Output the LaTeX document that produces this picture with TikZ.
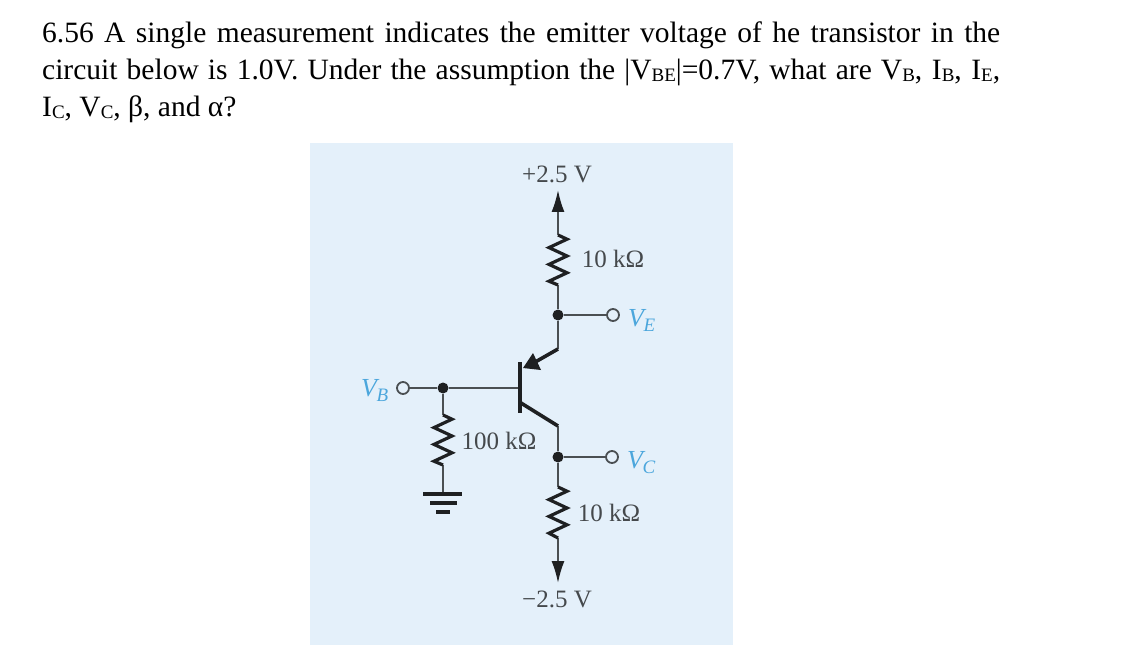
\documentclass[tikz,border=0pt]{standalone}
\usepackage{fontspec}
\setmainfont{Liberation Serif}
\usetikzlibrary{arrows.meta}
\definecolor{panelblue}{HTML}{E4F0FA}
\definecolor{wirecol}{HTML}{4A4F52}
\definecolor{inkcol}{HTML}{1E2022}
\definecolor{labelcol}{HTML}{45494C}
\definecolor{probecol}{HTML}{4BA6DC}
\newcommand{\subs}[1]{\raisebox{-1.5pt}{\fontsize{19}{19}\selectfont #1}}
\newcommand{\probe}[2]{\textit{#1}\kern-3pt\raisebox{-5pt}{\fontsize{19}{19}\selectfont\textit{#2}}}
\tikzset{
  x=1pt,y=-1pt,
  questionline/.style={anchor=base west,inner sep=0pt,font=\fontsize{29.5}{29.5}\selectfont,text=black},
  wire/.style={draw=wirecol,line width=1.9pt},
  thickline/.style={draw=inkcol,line width=3.6pt},
  resline/.style={draw=inkcol,line width=3.2pt,line join=miter},
  dotnode/.style={circle,fill=inkcol,inner sep=0pt,minimum size=11pt},
  opennode/.style={circle,draw=wirecol,fill=panelblue,line width=1.8pt,inner sep=0pt,minimum size=12pt},
  valuelabel/.style={inner sep=0pt,font=\fontsize{25}{25}\selectfont,text=labelcol},
  probelabel/.style={inner sep=0pt,font=\fontsize{26}{26}\selectfont,text=probecol},
  rail/.style={wire,-{Latex[length=22pt,width=13pt,inkcol]}},
  gnd/.style={draw=inkcol,line width=3.6pt}
}
\newcommand{\zigzag}[3]{% x, top y, bottom y
  \draw[resline] (#1,#2) -- ++(9,4.2) -- ++(-18,8.4) -- ++(18,8.4) -- ++(-18,8.4) -- ++(18,8.4) -- ++(-18,8.4) -- (#1,#3);}
\begin{document}
\begin{tikzpicture}
\useasboundingbox (0,0) rectangle (1126,668);
\fill[white] (0,0) rectangle (1126,668);
\node[questionline] (q1) at (42,43) {\makebox[958pt][s]{6.56 A single measurement indicates the emitter voltage of he transistor in the}};
\node[questionline] (q2) at (42,80) {\makebox[958pt][s]{circuit below is 1.0V. Under the assumption the |V\subs{BE}|=0.7V, what are V\subs{B}, I\subs{B}, I\subs{E},}};
\node[questionline] (q3) at (42,117) {I\subs{C}, V\subs{C}, β, and α?};

\fill[panelblue] (310,143) rectangle (733,645);

\coordinate (top) at (558,190);
\coordinate (r1t) at (558,235);
\coordinate (r1b) at (558,285);
\coordinate (em) at (558,349);
\coordinate (bartop) at (520,362);
\coordinate (barbot) at (520,413);
\coordinate (base) at (520,388);
\coordinate (emb) at (530,365);
\coordinate (colb) at (521,403);
\coordinate (col) at (558,426);
\coordinate (r3t) at (558,487);
\coordinate (r3b) at (558,538);
\coordinate (bot) at (558,583);
\coordinate (r2t) at (443,415);
\coordinate (r2b) at (443,465);
\coordinate (g1) at (443,494);
\node[dotnode] (ne) at (558,315) {};
\node[dotnode] (nc) at (558,457) {};
\node[dotnode] (nb) at (443,388) {};
\node[opennode] (oe) at (613,315) {};
\node[opennode] (oc) at (612,457) {};
\node[opennode] (ob) at (403,388) {};

\draw[rail] (r1t) -- (top);
\draw[wire] (r1b) -- (ne) -- (em);
\draw[wire] (ne) -- (oe);
\draw[wire] (ob) -- (nb) -- (base);
\draw[wire] (nb) -- (r2t);
\draw[wire] (r2b) -- (g1);
\draw[wire] (col) -- (nc) -- (r3t);
\draw[wire] (nc) -- (oc);
\draw[rail] (r3b) -- (bot);

\zigzag{558}{235}{285}
\zigzag{443}{415}{465}
\zigzag{558}{487}{538}

\draw[draw=inkcol,line width=4pt] (bartop) -- (barbot);
\draw[thickline] (em) -- (emb);
\fill[inkcol] (523,368) -- (533,353) -- (541,370) -- cycle;
\draw[thickline] (colb) -- (col);

\draw[gnd] (423,494) -- (462,494);
\draw[gnd] (430,503) -- (457,503);
\draw[gnd] (436,512) -- (450,512);

\node[valuelabel] (vp) at (557,174) {+2.5 V};
\node[valuelabel] (vm) at (557,599) {−2.5 V};
\node[valuelabel] (r1l) at (613,259) {10 kΩ};
\node[valuelabel] (r2l) at (499,441) {100 kΩ};
\node[valuelabel] (r3l) at (609,513) {10 kΩ};
\node[probelabel,anchor=base west] (le) at (628,326) {\probe{V}{E}};
\node[probelabel,anchor=base west] (lc) at (627,468) {\probe{V}{C}};
\node[probelabel,anchor=base west] (lb) at (361,396) {\probe{V}{B}};
\end{tikzpicture}
\end{document}
